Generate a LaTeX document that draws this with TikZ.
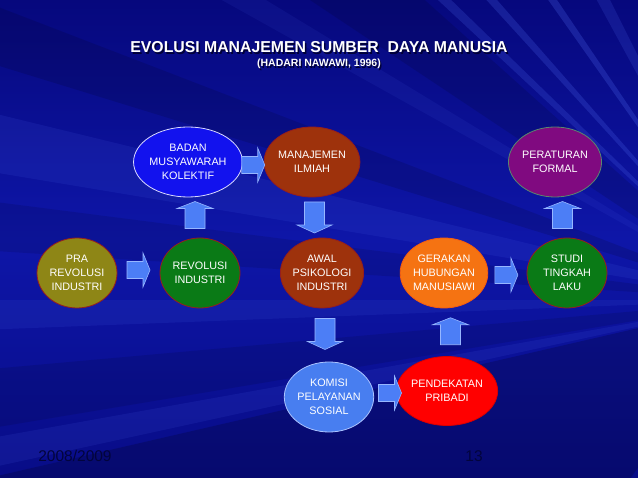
\documentclass[tikz,border=0pt]{standalone}
\usepackage{fontspec}
\setmainfont{Liberation Sans}
\usetikzlibrary{shapes.geometric,calc}
\definecolor{bgtop}{RGB}{6,8,125}
\definecolor{bgmid}{RGB}{14,22,168}
\definecolor{bgbot}{RGB}{8,12,135}
\definecolor{shadowc}{RGB}{0,0,55}
\definecolor{footc}{RGB}{2,4,60}
\definecolor{olivec}{RGB}{142,134,22}
\definecolor{greenc}{RGB}{10,122,22}
\definecolor{bluec}{RGB}{18,18,238}
\definecolor{brownc}{RGB}{158,50,12}
\definecolor{orangec}{RGB}{245,115,18}
\definecolor{purplec}{RGB}{128,10,128}
\definecolor{komisic}{RGB}{72,126,240}
\definecolor{redc}{RGB}{255,0,0}
\definecolor{darkred}{RGB}{150,30,30}
\definecolor{arrfill}{RGB}{76,126,246}
\definecolor{arrdraw}{RGB}{150,182,255}
\definecolor{peratdraw}{RGB}{90,135,110}
\definecolor{komisidraw}{RGB}{170,195,255}
\definecolor{raylight}{RGB}{90,120,255}
\tikzset{
  bub/.style={ellipse, minimum width=80pt, minimum height=70pt, inner sep=0pt,
    align=center, text=white, line width=0.8pt,
    font=\fontsize{10.8}{13.8}\selectfont},
  arrsty/.style={fill=arrfill, draw=arrdraw, line width=0.6pt, line join=miter},
  rarr/.pic={\path[arrsty] (-11.5,-8.5) -- (4.5,-8.5) -- (4.5,-17) -- (11.5,0) -- (4.5,17) -- (4.5,8.5) -- (-11.5,8.5) -- cycle;},
  uarr/.pic={\path[arrsty] (-10,13.5) -- (-10,-6.5) -- (-18,-6.5) -- (0,-13.5) -- (18,-6.5) -- (10,-6.5) -- (10,13.5) -- cycle;},
  darr/.pic={\path[arrsty] (-10,-15.5) -- (-10,7.5) -- (-17.5,7.5) -- (0,15.5) -- (17.5,7.5) -- (10,7.5) -- (10,-15.5) -- cycle;},
  ray/.style={fill=raylight, opacity=#1},
  dray/.style={fill=black, opacity=#1}
}
\begin{document}
\begin{tikzpicture}[x=1pt,y=-1pt]
\useasboundingbox (0,0) rectangle (638,478);
\shade[top color=bgtop, bottom color=bgbot, middle color=bgmid] (0,0) rectangle (638,478);
\begin{scope}
\clip (0,0) rectangle (638,478);
\coordinate (F) at (760,300);
% broad bands from the left
\fill[dray=0.12] (F) -- (-20,0) -- (-20,60) -- cycle;
\fill[ray=0.10] (F) -- (-20,110) -- (-20,170) -- cycle;
\fill[dray=0.10] (F) -- (-20,200) -- (-20,250) -- cycle;
\fill[ray=0.10] (F) -- (-20,300) -- (-20,330) -- cycle;
\fill[dray=0.10] (F) -- (-20,370) -- (-20,430) -- cycle;
\fill[ray=0.10] (F) -- (-20,440) -- (-20,470) -- cycle;
\fill[dray=0.18] (F) -- (-20,480) -- (600,520) -- cycle;
% thin rays top right
\fill[ray=0.18] (F) -- (395,-40) -- (410,-40) -- cycle;
\fill[ray=0.20] (F) -- (450,-40) -- (462,-40) -- cycle;
\fill[ray=0.22] (F) -- (520,-40) -- (530,-40) -- cycle;
\fill[ray=0.15] (F) -- (575,-40) -- (590,-40) -- cycle;
\fill[ray=0.20] (F) -- (640,-40) -- (650,-40) -- cycle;
\fill[dray=0.12] (F) -- (250,-40) -- (380,-40) -- cycle;
\fill[ray=0.08] (F) -- (150,-40) -- (200,-40) -- cycle;
\end{scope}
% title
\node[anchor=base, text=shadowc, font=\fontsize{15.8}{19}\bfseries\selectfont] (titles) at (320.5,54.5) {EVOLUSI MANAJEMEN SUMBER~ DAYA MANUSIA};
\node[anchor=base, text=white, font=\fontsize{15.8}{19}\bfseries\selectfont] (title) at (319,53) {EVOLUSI MANAJEMEN SUMBER~ DAYA MANUSIA};
\node[anchor=base, text=shadowc, font=\fontsize{10.5}{12}\bfseries\selectfont] (subs) at (320.2,68.2) {(HADARI NAWAWI, 1996)};
\node[anchor=base, text=white, font=\fontsize{10.5}{12}\bfseries\selectfont] (sub) at (319,67) {(HADARI NAWAWI, 1996)};
% bubbles
\node[bub, fill=olivec, draw=darkred] (pra) at (77,273) {PRA\\REVOLUSI\\INDUSTRI};
\node[bub, fill=greenc, draw=darkred] (rev) at (200,273) {REVOLUSI\\INDUSTRI};
\node[bub, fill=bluec, draw=white!85!blue] (badan) at (188,162) {BADAN\\MUSYAWARAH\\KOLEKTIF};
\node[bub, fill=brownc, draw=darkred] (man) at (312,162) {MANAJEMEN\\ILMIAH};
\node[bub, fill=brownc, draw=darkred] (awal) at (322,273) {AWAL\\PSIKOLOGI\\INDUSTRI};
\node[bub, fill=orangec, draw=orangec!80!red] (ger) at (444,273) {GERAKAN\\HUBUNGAN\\MANUSIAWI};
\node[bub, fill=greenc, draw=darkred] (studi) at (567,273) {STUDI\\TINGKAH\\LAKU};
\node[bub, fill=purplec, draw=peratdraw] (perat) at (555,162) {PERATURAN\\FORMAL};
\node[bub, fill=komisic, draw=komisidraw, minimum width=74pt] (komisi) at (329,397) {KOMISI\\PELAYANAN\\SOSIAL};
\node[bub, fill=redc, draw=red!85!black, minimum width=77pt, minimum height=69pt] (pend) at (447,391) {PENDEKATAN\\PRIBADI};
% block arrows
\pic at ($(pra.east)!0.5!(rev.west)+(0,-3)$) {rarr};
\pic at ($(rev.north)!0.5!(badan.south)+(1,-2.5)$) {uarr};
\pic at ($(badan.east)!0.5!(man.west)+(0,3)$) {rarr};
\pic at ($(man.south)!0.5!(awal.north)+(-2.5,0)$) {darr};
\pic at ($(awal.south)!0.5!(komisi.north)+(-0.5,-1)$) {darr};
\pic at ($(komisi.east)!0.5!(pend.west)+(5,-1)$) {rarr};
\pic at ($(pend.north)!0.5!(ger.south)+(5,-1)$) {uarr};
\pic at ($(ger.east)!0.5!(studi.west)+(-1,2)$) {rarr};
\pic at ($(studi.north)!0.5!(perat.south)+(1.5,-2.5)$) {uarr};
% footer
\node[anchor=base, text=footc, font=\fontsize{15.5}{18}\selectfont] (year) at (75,462) {2008/2009};
\node[anchor=base, text=footc, font=\fontsize{15.5}{18}\selectfont] (page) at (474,462) {13};
\end{tikzpicture}
\end{document}
